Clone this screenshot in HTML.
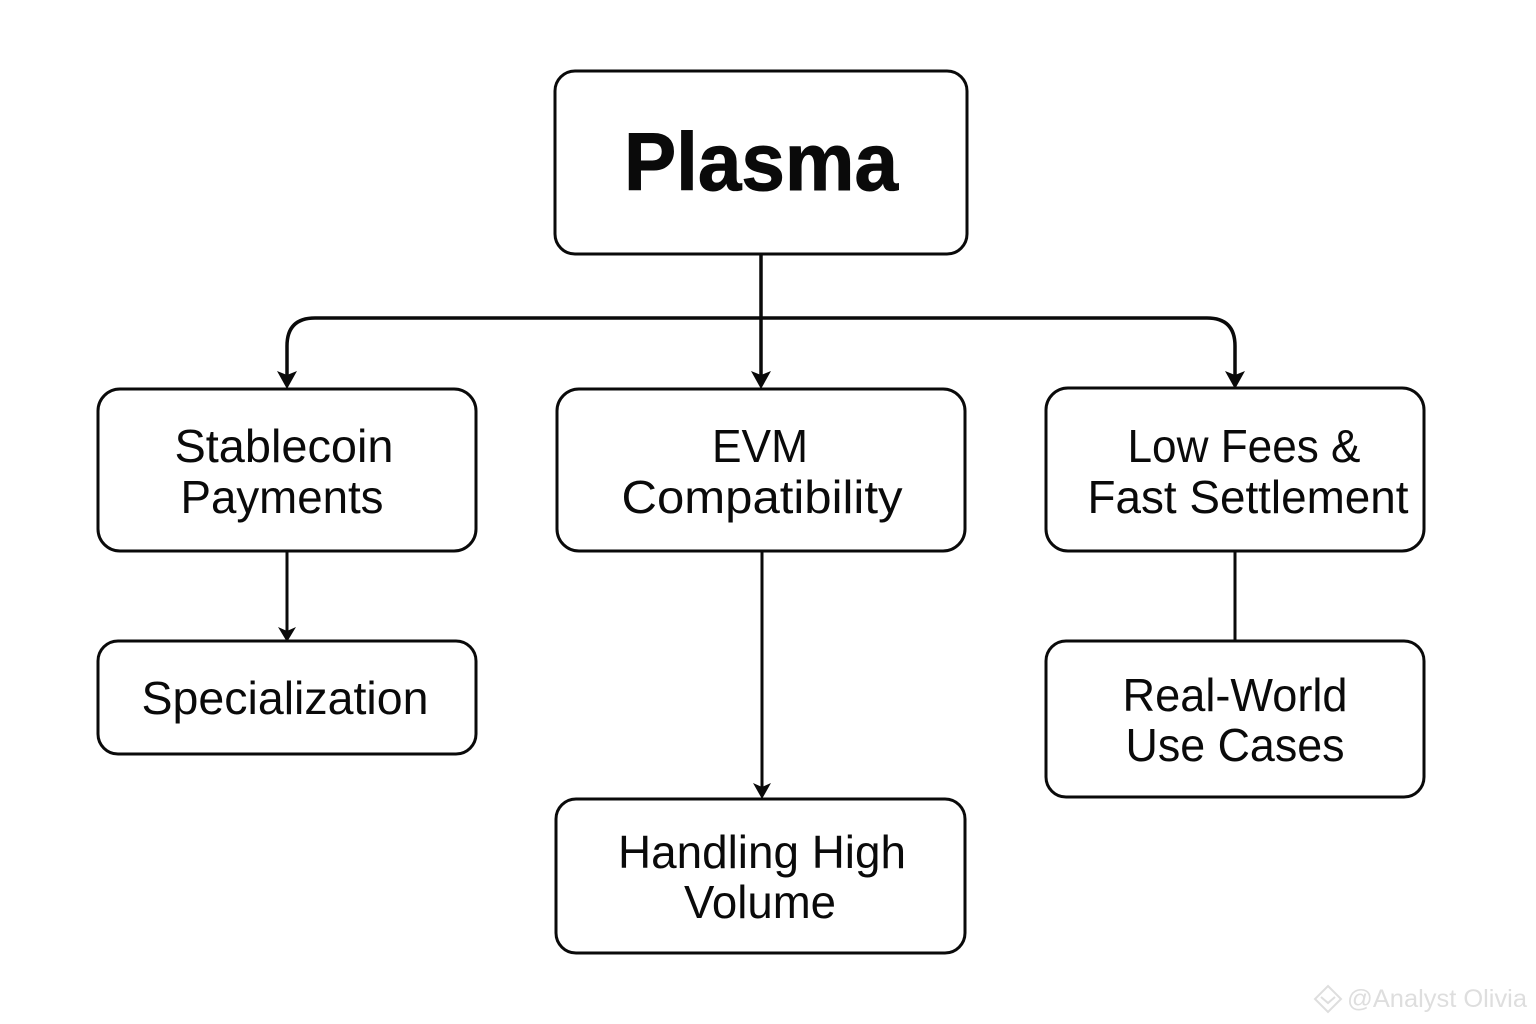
<!DOCTYPE html>
<html><head><meta charset="utf-8"><style>
html,body{margin:0;padding:0;background:#fff;width:1536px;height:1024px;overflow:hidden}
svg{display:block}
text{font-family:"Liberation Sans",sans-serif;fill:#0a0a0a;text-anchor:middle}
.b{fill:#fff;stroke:#0a0a0a;stroke-width:3}
.l{fill:none;stroke:#0a0a0a;stroke-width:3}
.m{fill:none;stroke:#0a0a0a;stroke-width:3.5}
.t{font-size:46px}
</style></head><body>
<svg width="1536" height="1024" viewBox="0 0 1536 1024" xmlns="http://www.w3.org/2000/svg">
<rect width="1536" height="1024" fill="#fff"/>
<path class="m" d="M761 254V378"/>
<path class="m" d="M287 378V346Q287 318 315 318H1207Q1235 318 1235 346V378"/>
<path class="l" d="M287 551V632"/>
<path class="l" d="M762 551V788"/>
<path class="l" d="M1235 551V641"/>
<path d="M277 371L287 375L297 371L287 389Z" fill="#0a0a0a"/>
<path d="M751 371L761 375L771 371L761 389Z" fill="#0a0a0a"/>
<path d="M1225 371L1235 375L1245 371L1235 389Z" fill="#0a0a0a"/>
<path d="M278 627L287 631L296 627L287 642Z" fill="#0a0a0a"/>
<path d="M753 783L762 787L771 783L762 799Z" fill="#0a0a0a"/>
<rect class="b" x="555" y="71" width="412" height="183" rx="20"/>
<rect class="b" x="98" y="389" width="378" height="162" rx="22"/>
<rect class="b" x="557" y="389" width="408" height="162" rx="22"/>
<rect class="b" x="1046" y="388" width="378" height="163" rx="22"/>
<rect class="b" x="98" y="641" width="378" height="113" rx="20"/>
<rect class="b" x="1046" y="641" width="378" height="156" rx="20"/>
<rect class="b" x="556" y="799" width="409" height="154" rx="20"/>
<text x="761" y="190" font-size="82" font-weight="700" stroke="#0a0a0a" stroke-width="1" textLength="274" lengthAdjust="spacingAndGlyphs">Plasma</text>
<text class="t" x="284" y="462" textLength="219" lengthAdjust="spacingAndGlyphs">Stablecoin</text>
<text class="t" x="282" y="513" textLength="203" lengthAdjust="spacingAndGlyphs">Payments</text>
<text class="t" x="760" y="462" textLength="96" lengthAdjust="spacingAndGlyphs">EVM</text>
<text class="t" x="762" y="513" textLength="281" lengthAdjust="spacingAndGlyphs">Compatibility</text>
<text class="t" x="1244" y="462" textLength="233" lengthAdjust="spacingAndGlyphs">Low Fees &amp;</text>
<text class="t" x="1248" y="513" textLength="321" lengthAdjust="spacingAndGlyphs">Fast Settlement</text>
<text class="t" x="285" y="714" textLength="287" lengthAdjust="spacingAndGlyphs">Specialization</text>
<text class="t" x="1235" y="711" textLength="225" lengthAdjust="spacingAndGlyphs">Real-World</text>
<text class="t" x="1235" y="761" textLength="219" lengthAdjust="spacingAndGlyphs">Use Cases</text>
<text class="t" x="762" y="868" textLength="288" lengthAdjust="spacingAndGlyphs">Handling High</text>
<text class="t" x="760" y="918" textLength="152" lengthAdjust="spacingAndGlyphs">Volume</text>
<g fill="none" stroke="#dedede" stroke-width="2"><path d="M1328 986L1341 999L1328 1012L1315 999Z"/><path d="M1321 997L1328 1003L1335 997"/></g>
<text x="1437" y="1007" font-size="25" style="fill:#dedede" textLength="180" lengthAdjust="spacingAndGlyphs">@Analyst Olivia</text>
</svg>
</body></html>
